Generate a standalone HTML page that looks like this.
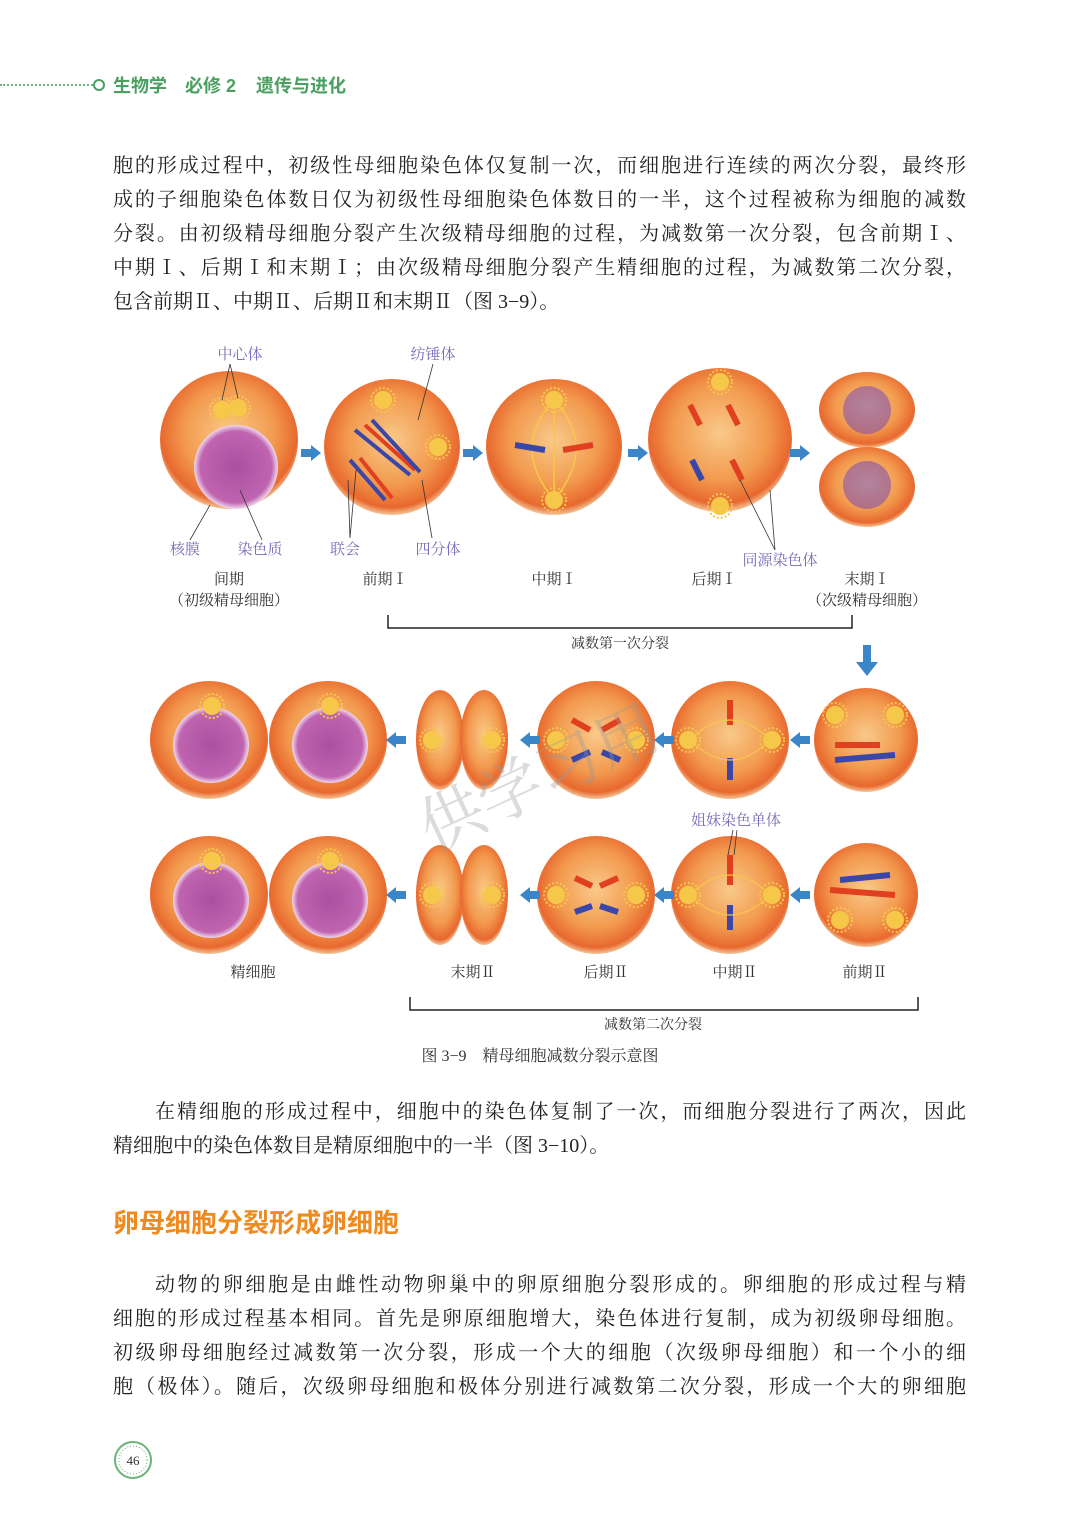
<!DOCTYPE html>
<html><head><meta charset="utf-8"><style>
html,body{margin:0;padding:0;background:#fff;}
body{width:1080px;height:1526px;position:relative;overflow:hidden;font-family:"Liberation Serif","Noto Serif CJK SC","Noto Sans CJK SC",serif;color:#222;}
.l{position:absolute;left:113px;width:853px;font-size:20px;line-height:34px;white-space:nowrap;text-align:justify;text-align-last:justify;}
.s{text-align-last:left;}
.hd{position:absolute;left:113px;top:1203px;font-family:"Liberation Sans","Noto Sans CJK SC",sans-serif;font-weight:bold;font-size:26px;color:#ee8a1e;}
.hh{position:absolute;top:72px;font-family:'Liberation Sans','Noto Sans CJK SC',sans-serif;font-weight:bold;font-size:18px;color:#4aa060;white-space:pre;}
svg{position:absolute;left:0;top:0;}
</style></head><body>
<div style="position:absolute;left:0;top:84px;width:93px;border-top:2px dotted #6bb37a;"></div>
<div style="position:absolute;left:93px;top:79px;width:8px;height:8px;border:2px solid #4aa060;border-radius:50%;"></div>
<div class="hh" style="left:113px">生物学</div>
<div class="hh" style="left:185px">必修 2</div>
<div class="hh" style="left:256px">遗传与进化</div>

<div class="l" style="top:149px">胞的形成过程中，初级性母细胞染色体仅复制一次，而细胞进行连续的两次分裂，最终形</div>
<div class="l" style="top:183px">成的子细胞染色体数日仅为初级性母细胞染色体数日的一半，这个过程被称为细胞的减数</div>
<div class="l" style="top:217px">分裂。由初级精母细胞分裂产生次级精母细胞的过程，为减数第一次分裂，包含前期Ⅰ、</div>
<div class="l" style="top:251px">中期Ⅰ、后期Ⅰ和末期Ⅰ；由次级精母细胞分裂产生精细胞的过程，为减数第二次分裂，</div>
<div class="l s" style="top:285px">包含前期Ⅱ、中期Ⅱ、后期Ⅱ和末期Ⅱ（图 3−9）。</div>

<svg width="1080" height="1526" viewBox="0 0 1080 1526">
<defs>
<radialGradient id="c" cx="50%" cy="45%" r="55%">
<stop offset="0" stop-color="#f9c98a"/><stop offset="0.6" stop-color="#f29a4e"/><stop offset="0.9" stop-color="#e8682e"/><stop offset="1" stop-color="#f3c79a"/></radialGradient>
<radialGradient id="n" cx="50%" cy="50%" r="50%">
<stop offset="0" stop-color="#a8509f"/><stop offset="0.85" stop-color="#c064b0"/><stop offset="1" stop-color="#f0d8ee"/></radialGradient>
<g id="cen"><circle r="9" fill="#f5c84a"/><circle r="12" fill="none" stroke="#f5c84a" stroke-width="2" stroke-dasharray="2 2"/></g>
<path id="arL" d="M0 0 L10 -8 L10 -4 L20 -4 L20 4 L10 4 L10 8 Z" fill="#3a86c8"/>
<path id="arR" d="M0 0 L-10 -8 L-10 -4 L-20 -4 L-20 4 L-10 4 L-10 8 Z" fill="#3a86c8"/>
</defs>
<g font-family="Liberation Serif,Noto Serif CJK SC,serif" font-size="15" text-anchor="middle">
<circle cx="229" cy="440" r="69" fill="url(#c)"/>
<circle cx="236" cy="467" r="42" fill="url(#n)"/>
<use href="#cen" x="222" y="410"/><use href="#cen" x="238" y="408"/>
<circle cx="392" cy="447" r="68" fill="url(#c)"/>
<use href="#cen" x="383" y="400"/><use href="#cen" x="438" y="447"/>
<g stroke-width="4" fill="none"><path d="M355 430 L410 475" stroke="#3b47a8"/><path d="M365 425 L415 470" stroke="#e04020"/><path d="M372 420 L420 472" stroke="#3b47a8"/><path d="M350 460 L385 500" stroke="#3b47a8"/><path d="M360 458 L392 498" stroke="#e04020"/></g>
<circle cx="554" cy="447" r="68" fill="url(#c)"/>
<use href="#cen" x="554" y="400"/><use href="#cen" x="554" y="500"/>
<g stroke="#f5c84a" stroke-width="1.5" fill="none"><path d="M554 400 Q510 447 554 500 M554 400 Q598 447 554 500 M554 400 L554 500"/></g>
<g stroke-width="6"><path d="M515 445 L545 450" stroke="#3b47a8"/><path d="M563 450 L593 445" stroke="#e04020"/></g>
<circle cx="720" cy="440" r="72" fill="url(#c)"/>
<use href="#cen" x="720" y="382"/><use href="#cen" x="720" y="506"/>
<g stroke-width="6"><path d="M690 405 L700 425 M728 405 L738 425" stroke="#e04020"/><path d="M692 460 L702 480" stroke="#3b47a8"/><path d="M732 460 L742 480" stroke="#e04020"/></g>
<ellipse cx="867" cy="410" rx="48" ry="38" fill="url(#c)"/><ellipse cx="867" cy="487" rx="48" ry="40" fill="url(#c)"/>
<circle cx="867" cy="410" r="24" fill="#7a4ab0" opacity="0.55"/><circle cx="867" cy="485" r="24" fill="#7a4ab0" opacity="0.55"/>
<use href="#arR" x="321" y="453"/><use href="#arR" x="483" y="453"/><use href="#arR" x="648" y="453"/><use href="#arR" x="810" y="453"/>
<g fill="#7a6ab8"><text x="240" y="359">中心体</text><text x="433" y="359">纺锤体</text><text x="185" y="554">核膜</text><text x="260" y="554">染色质</text><text x="345" y="554">联会</text><text x="438" y="554">四分体</text><text x="780" y="565">同源染色体</text></g>
<g stroke="#333" stroke-width="0.8"><path d="M230 364 L222 400 M230 364 L238 398 M433 364 L418 420 M190 540 L210 505 M262 540 L240 490 M350 538 L348 480 M350 538 L356 470 M432 538 L422 480 M775 550 L740 480 M775 550 L770 490"/></g>
<g fill="#333"><text x="229" y="584">间期</text><text x="229" y="605">（初级精母细胞）</text><text x="385" y="584">前期Ⅰ</text><text x="554" y="584">中期Ⅰ</text><text x="714" y="584">后期Ⅰ</text><text x="867" y="584">末期Ⅰ</text><text x="867" y="605">（次级精母细胞）</text>
<text x="620" y="648" font-size="14">减数第一次分裂</text></g>
<path d="M388 615 L388 628 L852 628 L852 615" stroke="#222" stroke-width="1.5" fill="none"/>
<path d="M863 645 L871 645 L871 662 L878 662 L867 676 L856 662 L863 662 Z" fill="#3a86c8"/>
<g id="r2">
<circle cx="209" cy="740" r="59" fill="url(#c)"/><circle cx="211" cy="745" r="38" fill="url(#n)"/><use href="#cen" x="212" y="706"/>
<circle cx="328" cy="740" r="59" fill="url(#c)"/><circle cx="330" cy="745" r="38" fill="url(#n)"/><use href="#cen" x="330" y="706"/>
<ellipse cx="440" cy="740" rx="24" ry="50" fill="url(#c)"/><ellipse cx="484" cy="740" rx="24" ry="50" fill="url(#c)"/>
<circle cx="596" cy="740" r="59" fill="url(#c)"/>
<circle cx="730" cy="740" r="59" fill="url(#c)"/>
<circle cx="866" cy="740" r="52" fill="url(#c)"/>
</g>
<use href="#r2" y="155"/>
<g stroke-width="6">
<path d="M730 700 L730 725" stroke="#e04020"/><path d="M730 758 L730 780" stroke="#3b47a8"/>
<path d="M572 720 L590 730 M602 730 L620 720" stroke="#e04020"/><path d="M572 760 L590 752 M602 752 L620 760" stroke="#3b47a8"/>
<path d="M835 745 L880 745" stroke="#e04020"/><path d="M835 760 L895 755" stroke="#3b47a8"/>
<path d="M730 855 L730 885" stroke="#e04020"/><path d="M730 905 L730 930" stroke="#3b47a8"/>
<path d="M575 878 L592 886 M600 886 L618 878" stroke="#e04020"/><path d="M575 912 L592 906 M600 906 L618 912" stroke="#3b47a8"/>
<path d="M840 880 L890 875" stroke="#3b47a8"/><path d="M830 890 L895 895" stroke="#e04020"/>
</g>
<g stroke="#f5c84a" stroke-width="1.2" fill="none"><path d="M690 740 Q730 700 770 740 Q730 780 690 740 M690 895 Q730 855 770 895 Q730 935 690 895"/></g>
<use href="#cen" x="688" y="740"/><use href="#cen" x="772" y="740"/><use href="#cen" x="688" y="895"/><use href="#cen" x="772" y="895"/>
<use href="#cen" x="556" y="740"/><use href="#cen" x="636" y="740"/><use href="#cen" x="556" y="895"/><use href="#cen" x="636" y="895"/>
<use href="#cen" x="835" y="715"/><use href="#cen" x="895" y="715"/><use href="#cen" x="840" y="920"/><use href="#cen" x="895" y="920"/>
<use href="#cen" x="432" y="740"/><use href="#cen" x="492" y="740"/><use href="#cen" x="432" y="895"/><use href="#cen" x="492" y="895"/>
<use href="#arL" x="386" y="740"/><use href="#arL" x="520" y="740"/><use href="#arL" x="654" y="740"/><use href="#arL" x="790" y="740"/>
<use href="#arL" x="386" y="895"/><use href="#arL" x="520" y="895"/><use href="#arL" x="654" y="895"/><use href="#arL" x="790" y="895"/>
<text x="736" y="825" fill="#7a6ab8">姐妹染色单体</text>
<path d="M733 830 L728 855 M737 830 L734 855" stroke="#333" stroke-width="0.8"/>
<g fill="#333"><text x="253" y="977">精细胞</text><text x="473" y="977">末期Ⅱ</text><text x="606" y="977">后期Ⅱ</text><text x="735" y="977">中期Ⅱ</text><text x="865" y="977">前期Ⅱ</text>
<text x="653" y="1029" font-size="14">减数第二次分裂</text>
<text x="540" y="1061" font-size="16">图 3−9　精母细胞减数分裂示意图</text></g>
<path d="M410 997 L410 1010 L918 1010 L918 997" stroke="#222" stroke-width="1.5" fill="none"/>
<text x="540" y="800" font-size="64" fill="#999" opacity="0.35" transform="rotate(-25 540 780)">供学习用</text>
<circle cx="133" cy="1460" r="18" fill="none" stroke="#6bb37a" stroke-width="2"/>
<circle cx="133" cy="1460" r="14" fill="none" stroke="#6bb37a" stroke-width="1" stroke-dasharray="1 2"/>
<text x="133" y="1465" font-size="13" fill="#333">46</text>
</g>
</svg>

<div class="l" style="top:1095px;padding-left:42px;width:811px">在精细胞的形成过程中，细胞中的染色体复制了一次，而细胞分裂进行了两次，因此</div>
<div class="l s" style="top:1129px">精细胞中的染色体数目是精原细胞中的一半（图 3−10）。</div>
<div class="hd">卵母细胞分裂形成卵细胞</div>
<div class="l" style="top:1268px;padding-left:42px;width:811px">动物的卵细胞是由雌性动物卵巢中的卵原细胞分裂形成的。卵细胞的形成过程与精</div>
<div class="l" style="top:1302px">细胞的形成过程基本相同。首先是卵原细胞增大，染色体进行复制，成为初级卵母细胞。</div>
<div class="l" style="top:1336px">初级卵母细胞经过减数第一次分裂，形成一个大的细胞（次级卵母细胞）和一个小的细</div>
<div class="l" style="top:1370px">胞（极体）。随后，次级卵母细胞和极体分别进行减数第二次分裂，形成一个大的卵细胞</div>
</body></html>
